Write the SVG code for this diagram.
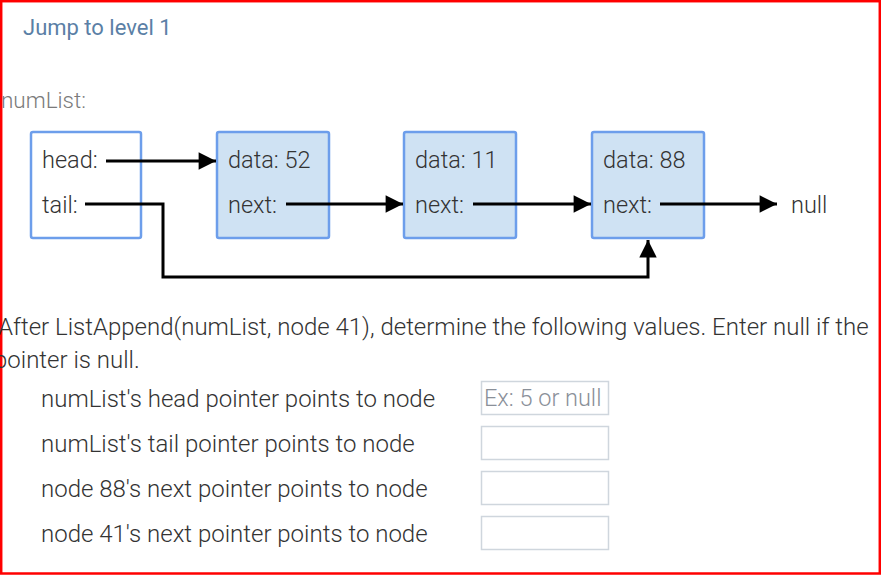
<svg xmlns="http://www.w3.org/2000/svg" width="881" height="575" viewBox="0 0 881 575">
<defs>
<style>
text{font-family:Roboto,"Liberation Sans",sans-serif;font-weight:300;}
.lbl{font-size:23.5px;fill:#333;}
.q{font-size:24px;fill:#333;}
.node{fill:#cfe2f3;stroke:#6d9eeb;stroke-width:2.5;}
.hbox{fill:#fff;stroke:#6d9eeb;stroke-width:2.5;}
.inp{fill:#fff;stroke:#cfd6dd;stroke-width:1.5;}
.conn{fill:none;stroke:#000;stroke-width:3;}
</style>
<marker id="ah" viewBox="0 0 10 10" refX="10" refY="5" markerWidth="6.3" markerHeight="5.8" markerUnits="strokeWidth" orient="auto">
<path d="M0,0 L10,5 L0,10 Z" fill="#000"/>
</marker>
</defs>
<rect x="0" y="0" width="881" height="575" fill="#fff"/>
<rect x="1.2" y="1.2" width="878.6" height="572.3" fill="none" stroke="#ff0000" stroke-width="2.5"/>
<text x="23" y="35" style="font-size:22px;font-weight:400;fill:#5b7fa6">Jump to level 1</text>
<text x="1" y="108" style="font-size:22.5px;fill:#7a7a7a">numList:</text>

<g id="list">
<rect class="hbox" x="31" y="132" width="110" height="106" rx="2"/>
<text class="lbl" x="42" y="168">head:</text>
<text class="lbl" x="42" y="213">tail:</text>
</g>
<g id="n52">
<rect class="node" x="217" y="132" width="112" height="106" rx="2"/>
<text class="lbl" x="228" y="168">data: 52</text>
<text class="lbl" x="228" y="213">next:</text>
</g>
<g id="n11">
<rect class="node" x="404" y="132" width="112" height="106" rx="2"/>
<text class="lbl" x="415" y="168">data: 11</text>
<text class="lbl" x="415" y="213">next:</text>
</g>
<g id="n88">
<rect class="node" x="592" y="132" width="112" height="106" rx="2"/>
<text class="lbl" x="603" y="168">data: 88</text>
<text class="lbl" x="603" y="213">next:</text>
</g>
<g id="null">
<text class="lbl" x="791" y="213">null</text>
</g>

<g id="connectors">
<path class="conn" d="M106,161 H216" marker-end="url(#ah)"/>
<path class="conn" d="M85,204 H163 V277 H648 V240" marker-end="url(#ah)"/>
<path class="conn" d="M286,204 H403" marker-end="url(#ah)"/>
<path class="conn" d="M473,204 H591" marker-end="url(#ah)"/>
<path class="conn" d="M660,204 H777" marker-end="url(#ah)"/>
</g>

<text class="q" x="-2" y="335">After ListAppend(numList, node 41), determine the following values. Enter null if the</text>
<text class="q" x="-6" y="368">pointer is null.</text>
<text class="q" x="41" y="407">numList's head pointer points to node</text>
<text class="q" x="41" y="452">numList's tail pointer points to node</text>
<text class="q" x="41" y="497">node 88's next pointer points to node</text>
<text class="q" x="41" y="542">node 41's next pointer points to node</text>

<g id="inputs">
<rect class="inp" x="481.5" y="381.5" width="127" height="33"/>
<text x="484" y="406" style="font-size:23.5px;fill:#8a9099">Ex: 5 or null</text>
<rect class="inp" x="481.5" y="426.5" width="127" height="33"/>
<rect class="inp" x="481.5" y="471.5" width="127" height="33"/>
<rect class="inp" x="481.5" y="516.5" width="127" height="33"/>
</g>
</svg>
